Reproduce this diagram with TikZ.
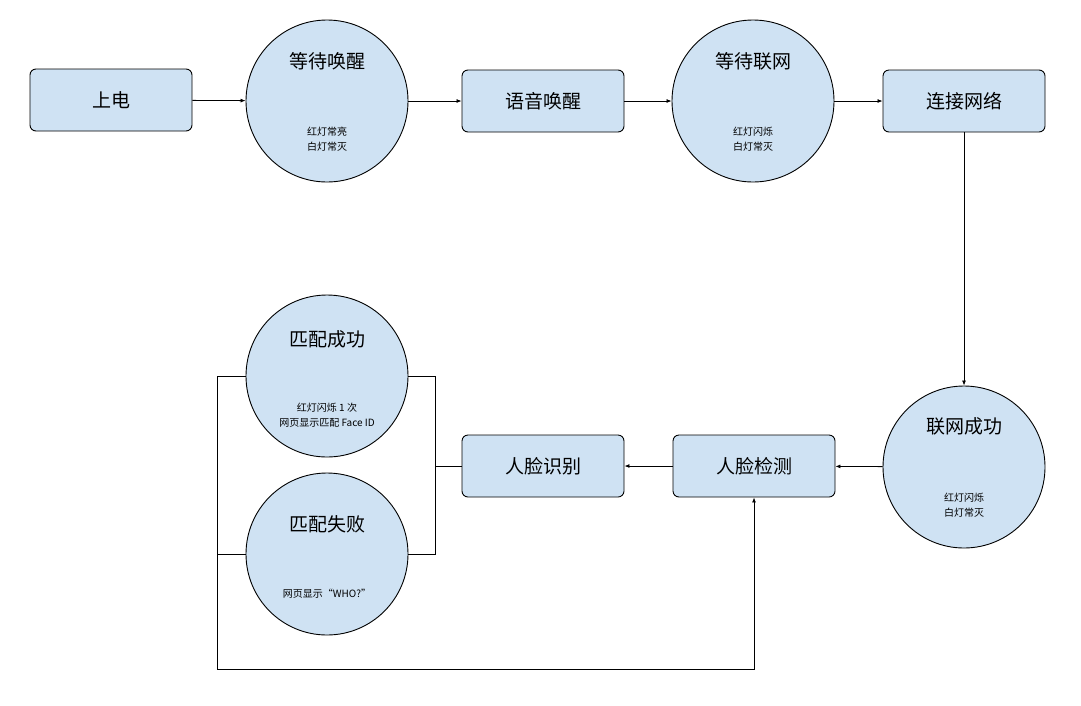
\documentclass[tikz,border=0pt]{standalone}
\usepackage{fontspec}
\setmainfont{Noto Sans CJK SC}
\usetikzlibrary{arrows.meta}
\definecolor{fillb}{RGB}{207,226,243}
\begin{document}
\begin{tikzpicture}[x=1pt,y=-1pt,
  box/.style={draw=black,fill=fillb,rounded corners=6pt,minimum width=162pt,minimum height=62pt,line width=0.9pt,font=\fontsize{19}{22}\selectfont},
  circ/.style={draw=black,fill=fillb,circle,minimum size=162pt,line width=0.9pt},
  ttl/.style={font=\fontsize{19}{22}\selectfont},
  sm/.style={font=\fontsize{10}{15}\selectfont,align=center},
  ar/.style={-{Latex[length=5pt,width=4pt]},line width=0.8pt},
  ln/.style={line width=0.8pt}]
\useasboundingbox (0,0) rectangle (1081,705);
\node[box] (pd) at (111,100) {上电};
\node[circ] (ddhx) at (327,101) {};
\node[ttl] at (327,61) {等待唤醒};
\node[sm] at (327,139) {红灯常亮\\白灯常灭};
\node[box] (yyhx) at (543,101) {语音唤醒};
\node[circ] (ddlw) at (753,101) {};
\node[ttl] at (753,61) {等待联网};
\node[sm] at (753,139) {红灯闪烁\\白灯常灭};
\node[box] (ljwl) at (964,101) {连接网络};
\node[circ] (lwcg) at (964,467) {};
\node[ttl] at (964,426) {联网成功};
\node[sm] at (964,505) {红灯闪烁\\白灯常灭};
\node[box] (rljc) at (754,466) {人脸检测};
\node[box] (rlsb) at (543,466) {人脸识别};
\node[circ] (ppcg) at (327,376) {};
\node[ttl] at (327,339) {匹配成功};
\node[sm] at (327,415) {红灯闪烁 1 次\\网页显示匹配 Face ID};
\node[circ] (ppsb) at (327,554) {};
\node[ttl] at (327,524) {匹配失败};
\node[sm] at (327,594) {网页显示“WHO?”};
\coordinate (j) at (435,466);
\coordinate (bl) at (217,669);
\draw[ar] (pd) -- (ddhx);
\draw[ar] (ddhx) -- (yyhx);
\draw[ar] (yyhx) -- (ddlw);
\draw[ar] (ddlw) -- (ljwl);
\draw[ar] (ljwl) -- (lwcg);
\draw[ar] (lwcg) -- (rljc);
\draw[ar] (rljc) -- (rlsb);
\draw[ln] (rlsb.west) -- (j);
\draw[ln] (ppcg.east) -| (j);
\draw[ln] (ppsb.east) -| (j);
\draw[ln] (ppcg.west) -| (bl);
\draw[ln] (ppsb.west) -- (ppsb.west -| bl);
\draw[ar] (bl) -| (rljc.south);
\end{tikzpicture}
\end{document}
